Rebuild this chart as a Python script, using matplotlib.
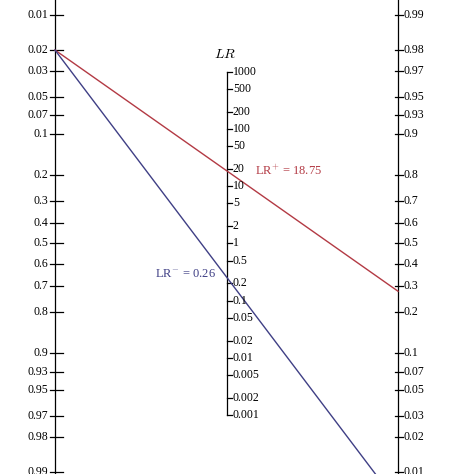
import numpy as np
import matplotlib
matplotlib.use("Agg")
import matplotlib.pyplot as plt

pre_ticks = [0.01,0.02,0.03,0.05,0.07,0.1,0.2,0.3,0.4,0.5,0.6,0.7,0.8,0.9,0.93,0.95,0.97,0.98,0.99]
post_ticks = [0.99,0.98,0.97,0.95,0.93,0.9,0.8,0.7,0.6,0.5,0.4,0.3,0.2,0.1,0.07,0.05,0.03,0.02,0.01]
lr_ticks = [1000,500,200,100,50,20,10,5,2,1,0.5,0.2,0.1,0.05,0.02,0.01,0.005,0.002,0.001]
lr_labels = ["1000","500","200","100","50","20","10","5","2","1","0.5","0.2","0.1","0.05","0.02","0.01","0.005","0.002","0.001"]
pretest = 0.02
lr_pos = 18.75
lr_neg = 0.26

plt.rcParams['font.family'] = ['Liberation Serif', 'DejaVu Serif']
plt.rcParams['mathtext.fontset'] = 'cm'
fig = plt.figure(figsize=(4.74, 4.74), dpi=100)
ax = fig.add_axes([0, 0, 1, 1])
ax.set_xlim(0, 474)
ax.set_ylim(4.638, -4.899)
ax.axis('off')

def logit(p):
    return np.log(p / (1 - p))

xL, xM, xR = 55, 227, 398
k = dict(color='black', lw=0.9)
fs = 8.5
ax.plot([xL, xL], [-6, 6], **k)
ax.plot([xR, xR], [-6, 6], **k)
ax.plot([xM, xM], [-np.log(1000)/2, -np.log(0.001)/2], **k)
for p in pre_ticks:
    t = logit(p)
    ax.plot([xL-5, xL+8], [t, t], **k)
    ax.text(xL-7, t, f"{p:g}", ha='right', va='center', fontsize=fs)
for q in post_ticks:
    t = -logit(q)
    ax.plot([xR-3, xR+5], [t, t], **k)
    ax.text(xR+6, t, f"{q:g}", ha='left', va='center', fontsize=fs)
for v, lab in zip(lr_ticks, lr_labels):
    t = -np.log(v)/2
    ax.plot([xM, xM+5], [t, t], **k)
    ax.text(xM+6, t, lab, ha='left', va='center', fontsize=fs)
ax.text(xM-2, -np.log(1000)/2 - 0.22, r"$LR$", ha='center', va='bottom', fontsize=10)

red, blue = '#b33a44', '#3f3f85'
tL = logit(pretest)
for lr, c in [(lr_pos, red), (lr_neg, blue)]:
    tm = -np.log(lr)/2
    tR = 2*tm - tL
    ax.plot([xL, xR], [tL, tR], color=c, lw=1.0)
ax.text(255, -np.log(lr_pos)/2, r"LR$^{+}$ = 18.75", color=red, ha='left', va='center', fontsize=9)
ax.text(216, -np.log(lr_neg)/2 - 0.05, r"LR$^{-}$ = 0.26", color=blue, ha='right', va='center', fontsize=9)
fig.savefig("out.png", dpi=100)
